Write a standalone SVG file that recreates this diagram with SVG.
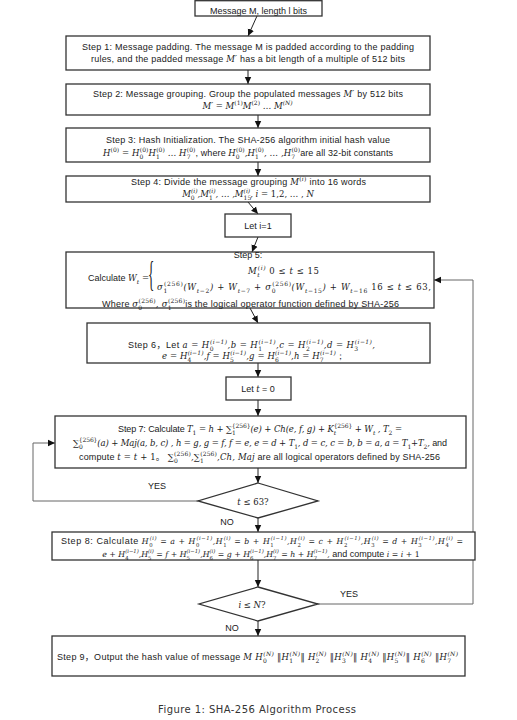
<svg xmlns="http://www.w3.org/2000/svg" width="517" height="720" viewBox="0 0 517 720">
<style>
.box{fill:#fff;stroke:#333;stroke-width:1.3}
.t{font-family:"Liberation Sans",Arial,"Noto Sans CJK SC",sans-serif;font-size:9px;fill:#1a1a1a}
.m{font-family:"DejaVu Serif","Liberation Serif",serif;font-style:italic;font-size:8.5px}
.u{font-style:normal}
.b{font-size:6px;baseline-shift:-2.5px}
.p{font-size:6px;baseline-shift:3.8px}
.k .m{font-size:7.8px}
.k .b,.k .p{font-size:5.3px}
.c{text-anchor:middle}
.ln{fill:none;stroke:#222;stroke-width:1}
.lg{fill:none;stroke:#666;stroke-width:1}
.cap{font-family:"DejaVu Sans","Liberation Sans",sans-serif;font-size:10px;fill:#333}
.br{font-family:"Liberation Serif",serif;font-size:13px;fill:#1a1a1a}
</style>
<defs>
<marker id="ah" markerWidth="8" markerHeight="8" refX="7" refY="4" orient="auto" markerUnits="userSpaceOnUse"><path d="M0,0.8 L7,4 L0,7.2 z" fill="#111"/></marker>
</defs>
<rect width="517" height="720" fill="#fff"/>

<g id="connectors">
<line class="ln" x1="257" y1="16" x2="248" y2="36" marker-end="url(#ah)"/>
<line class="ln" x1="248" y1="70" x2="248" y2="84" marker-end="url(#ah)"/>
<line class="ln" x1="258" y1="115" x2="258" y2="128" marker-end="url(#ah)"/>
<line class="ln" x1="258" y1="162" x2="258" y2="176" marker-end="url(#ah)"/>
<line class="ln" x1="248" y1="202" x2="258" y2="214" marker-end="url(#ah)"/>
<line class="ln" x1="258" y1="237" x2="252" y2="252" marker-end="url(#ah)"/>
<line class="ln" x1="250" y1="308" x2="258" y2="323" marker-end="url(#ah)"/>
<line class="ln" x1="258" y1="363" x2="258" y2="377" marker-end="url(#ah)"/>
<line class="ln" x1="258" y1="400" x2="258" y2="416" marker-end="url(#ah)"/>
<line class="ln" x1="258" y1="468" x2="258" y2="483" marker-end="url(#ah)"/>
<polyline class="lg" points="198,501 33,501 33,443 55,443" marker-end="url(#ah)"/>
<line class="ln" x1="258" y1="518" x2="258" y2="532" marker-end="url(#ah)"/>
<line class="ln" x1="258" y1="560" x2="258" y2="587" marker-end="url(#ah)"/>
<polyline class="lg" points="318,604 473,604 473,280 434,280" marker-end="url(#ah)"/>
<line class="ln" x1="258" y1="621" x2="258" y2="636" marker-end="url(#ah)"/>
<text class="t c" x="157" y="489">YES</text>
<text class="t c" x="227" y="525">NO</text>
<text class="t c" x="349" y="597">YES</text>
<text class="t c" x="232" y="631">NO</text>
</g>

<g id="start">
<rect class="box" x="195" y="0.7" width="127" height="15.3"/>
<text class="t c" x="258.5" y="13.5">Message M, length l bits</text>
</g>

<g id="step1">
<rect class="box" x="66" y="36" width="364" height="34"/>
<text class="t" x="82" y="50" textLength="332">Step 1: Message padding. The message M is padded according to the padding</text>
<text class="t" x="91" y="62" textLength="314">rules, and the padded message <tspan class="m">M′</tspan> has a bit length of a multiple of 512 bits</text>
</g>

<g id="step2">
<rect class="box" x="66" y="84" width="364" height="31"/>
<text class="t" x="93" y="97" textLength="310">Step 2: Message grouping. Group the populated messages <tspan class="m">M′</tspan> by 512 bits</text>
<text class="t m c" x="247.5" y="109">M′ <tspan class="u">=</tspan> M<tspan class="p u">(1)</tspan>M<tspan class="p u">(2)</tspan> … M<tspan class="p">(N)</tspan></text>
</g>

<g id="step3">
<rect class="box" x="66" y="128" width="364" height="34"/>
<text class="t" x="106" y="143" textLength="284">Step 3: Hash Initialization.  The SHA-256 algorithm initial hash value</text>
<text class="t" x="103" y="156" textLength="290"><tspan class="m">H<tspan class="p u">(0)</tspan> <tspan class="u">=</tspan> H<tspan class="b u">0</tspan><tspan class="p u" dx="-3.8">(0)</tspan>H<tspan class="b u">1</tspan><tspan class="p u" dx="-3.8">(0)</tspan> … H<tspan class="b u">7</tspan><tspan class="p u" dx="-3.8">(0)</tspan></tspan>, where  <tspan class="m">H<tspan class="b u">0</tspan><tspan class="p u" dx="-3.8">(0)</tspan>,H<tspan class="b u">1</tspan><tspan class="p u" dx="-3.8">(0)</tspan>, … ,H<tspan class="b u">7</tspan><tspan class="p u" dx="-3.8">(0)</tspan></tspan>are all 32-bit constants</text>
</g>

<g id="step4">
<rect class="box" x="66" y="176" width="364" height="26"/>
<text class="t" x="131" y="185" textLength="235">Step 4: Divide the message grouping <tspan class="m">M<tspan class="p u">(</tspan><tspan class="p">i</tspan><tspan class="p u">)</tspan></tspan> into 16 words</text>
<text class="t m c" x="248" y="197">M<tspan class="b u">0</tspan><tspan class="p" dx="-3.8">(i)</tspan>,M<tspan class="b u">1</tspan><tspan class="p" dx="-3.8">(i)</tspan>, … ,M<tspan class="b u">15</tspan><tspan class="p" dx="-7.6">(i)</tspan>,  i <tspan class="u">= 1,2, … ,</tspan> N</text>
</g>

<g id="let-i">
<rect class="box" x="225" y="214" width="66" height="23"/>
<text class="t c" x="258" y="229">Let i=1</text>
</g>

<g id="step5">
<rect class="box" x="66" y="252" width="368" height="56"/>
<text class="t c" x="248" y="258">Step 5:</text>
<text class="t" x="88" y="281">Calculate <tspan class="m">W<tspan class="b">t</tspan> <tspan class="u">=</tspan></tspan></text>
<text class="br" transform="translate(148,285.5) scale(1,2.7)" x="0" y="0">{</text>
<text class="t m" x="248" y="274" textLength="71">M<tspan class="b">t</tspan><tspan class="p" dx="-2.4">(i)</tspan>    <tspan class="u">0 ≤</tspan> t <tspan class="u">≤ 15</tspan></text>
<text class="t m" x="157" y="290" textLength="274">σ<tspan class="b u">1</tspan><tspan class="p u" dx="-3.8">(256)</tspan>(W<tspan class="b">t<tspan class="u">−2</tspan></tspan>) <tspan class="u">+</tspan> W<tspan class="b">t<tspan class="u">−7</tspan></tspan> <tspan class="u">+</tspan> σ<tspan class="b u">0</tspan><tspan class="p u" dx="-3.8">(256)</tspan>(W<tspan class="b">t<tspan class="u">−15</tspan></tspan>) <tspan class="u">+</tspan> W<tspan class="b">t<tspan class="u">−16</tspan></tspan>    <tspan class="u">16 ≤</tspan> t <tspan class="u">≤ 63,</tspan></text>
<text class="t" x="102" y="306.5" textLength="297">Where  <tspan class="m">σ<tspan class="b u">0</tspan><tspan class="p u" dx="-3.8">(256)</tspan>, σ<tspan class="b u">1</tspan><tspan class="p u" dx="-3.8">(256)</tspan></tspan>is the logical operator function  defined by SHA-256</text>
</g>

<g id="step6">
<rect class="box" x="87" y="323" width="343" height="40"/>
<text class="t" x="128" y="348" textLength="247">Step 6，Let  <tspan class="m">a <tspan class="u">=</tspan> H<tspan class="b u">0</tspan><tspan class="p" dx="-3.8">(i−1)</tspan>,b <tspan class="u">=</tspan> H<tspan class="b u">1</tspan><tspan class="p" dx="-3.8">(i−1)</tspan>,c <tspan class="u">=</tspan> H<tspan class="b u">2</tspan><tspan class="p" dx="-3.8">(i−1)</tspan>,d <tspan class="u">=</tspan> H<tspan class="b u">3</tspan><tspan class="p" dx="-3.8">(i−1)</tspan>,</tspan></text>
<text class="t m" x="162" y="359" textLength="183">e <tspan class="u">=</tspan> H<tspan class="b u">4</tspan><tspan class="p" dx="-3.8">(i−1)</tspan>,f <tspan class="u">=</tspan> H<tspan class="b u">5</tspan><tspan class="p" dx="-3.8">(i−1)</tspan>,g <tspan class="u">=</tspan> H<tspan class="b u">6</tspan><tspan class="p" dx="-3.8">(i−1)</tspan>,h <tspan class="u">=</tspan> H<tspan class="b u">7</tspan><tspan class="p" dx="-3.8">(i−1)</tspan><tspan class="u">；</tspan></text>
</g>

<g id="let-t">
<rect class="box" x="226" y="377" width="65" height="23"/>
<text class="t c" x="258" y="392">Let <tspan class="m">t</tspan> = 0</text>
</g>

<g id="step7">
<rect class="box" x="55" y="416" width="411" height="52"/>
<text class="t" x="118" y="432" textLength="284">Step 7: Calculate <tspan class="m">T<tspan class="b u">1</tspan> <tspan class="u">=</tspan> h <tspan class="u">+ ∑</tspan><tspan class="b u">1</tspan><tspan class="p u" dx="-3.8">{256}</tspan>(e) <tspan class="u">+</tspan> Ch(e, f, g) <tspan class="u">+</tspan> K<tspan class="b">t</tspan><tspan class="p u" dx="-2.4">{256}</tspan> <tspan class="u">+</tspan> W<tspan class="b">t</tspan> , T<tspan class="b u">2</tspan> <tspan class="u">=</tspan></tspan></text>
<text class="t" x="73" y="446" textLength="374"><tspan class="m"><tspan class="u">∑</tspan><tspan class="b u">0</tspan><tspan class="p u" dx="-3.8">{256}</tspan>(a) <tspan class="u">+</tspan> Maj(a, b, c) , h <tspan class="u">=</tspan> g, g <tspan class="u">=</tspan> f, f <tspan class="u">=</tspan> e, e <tspan class="u">=</tspan> d <tspan class="u">+</tspan> T<tspan class="b u">1</tspan>, d <tspan class="u">=</tspan> c, c <tspan class="u">=</tspan> b, b <tspan class="u">=</tspan> a, a <tspan class="u">=</tspan> T<tspan class="b u">1</tspan><tspan class="u">+</tspan>T<tspan class="b u">2</tspan>,</tspan>  and</text>
<text class="t" x="79" y="460" textLength="361">compute <tspan class="m">t <tspan class="u">=</tspan> t <tspan class="u">+ 1</tspan></tspan>。 <tspan class="m"><tspan class="u">∑</tspan><tspan class="b u">0</tspan><tspan class="p u" dx="-3.8">(256)</tspan>,<tspan class="u">∑</tspan><tspan class="b u">1</tspan><tspan class="p u" dx="-3.8">(256)</tspan>,Ch, Maj</tspan> are all logical operators defined by SHA-256</text>
</g>

<g id="decision-t">
<polygon class="box" points="258,483 318,501 258,518 198,501"/>
<text class="t m c" x="253" y="505">t <tspan class="u">≤ 63?</tspan></text>
</g>

<g id="step8">
<rect class="box" x="52" y="532" width="423" height="28"/>
<text class="t k" x="61" y="544" textLength="402">Step 8: Calculate <tspan class="m">H<tspan class="b u">0</tspan><tspan class="p" dx="-3.4">(i)</tspan> <tspan class="u">=</tspan> a <tspan class="u">+</tspan> H<tspan class="b u">0</tspan><tspan class="p" dx="-3.4">(i−1)</tspan>,H<tspan class="b u">1</tspan><tspan class="p" dx="-3.4">(i)</tspan> <tspan class="u">=</tspan> b <tspan class="u">+</tspan> H<tspan class="b u">1</tspan><tspan class="p" dx="-3.4">(i−1)</tspan>,H<tspan class="b u">2</tspan><tspan class="p" dx="-3.4">(i)</tspan> <tspan class="u">=</tspan> c <tspan class="u">+</tspan> H<tspan class="b u">2</tspan><tspan class="p" dx="-3.4">(i−1)</tspan>,H<tspan class="b u">3</tspan><tspan class="p" dx="-3.4">(i)</tspan> <tspan class="u">=</tspan> d <tspan class="u">+</tspan> H<tspan class="b u">3</tspan><tspan class="p" dx="-3.4">(i−1)</tspan>,H<tspan class="b u">4</tspan><tspan class="p" dx="-3.4">(i)</tspan> <tspan class="u">=</tspan></tspan></text>
<text class="t k c" x="261" y="556.5"><tspan class="m">e <tspan class="u">+</tspan> H<tspan class="b u">4</tspan><tspan class="p" dx="-3.4">(i−1)</tspan>,H<tspan class="b u">5</tspan><tspan class="p" dx="-3.4">(i)</tspan> <tspan class="u">=</tspan> f <tspan class="u">+</tspan> H<tspan class="b u">5</tspan><tspan class="p" dx="-3.4">(i−1)</tspan>,H<tspan class="b u">6</tspan><tspan class="p" dx="-3.4">(i)</tspan> <tspan class="u">=</tspan> g <tspan class="u">+</tspan> H<tspan class="b u">6</tspan><tspan class="p" dx="-3.4">(i−1)</tspan>,H<tspan class="b u">7</tspan><tspan class="p" dx="-3.4">(i)</tspan> <tspan class="u">=</tspan> h <tspan class="u">+</tspan> H<tspan class="b u">7</tspan><tspan class="p" dx="-3.4">(i−1)</tspan>,</tspan>   and compute  <tspan class="m">i <tspan class="u">=</tspan> i <tspan class="u">+ 1</tspan></tspan></text>
</g>

<g id="decision-i">
<polygon class="box" points="258,587 318,604 258,621 199,604"/>
<text class="t m c" x="252" y="608">i <tspan class="u">≤</tspan> N<tspan class="u">?</tspan></text>
</g>

<g id="step9">
<rect class="box" x="52" y="636" width="413" height="40"/>
<text class="t" x="57" y="660" textLength="401">Step 9，Output  the hash value  of message  <tspan class="m">M H<tspan class="b u">0</tspan><tspan class="p" dx="-3.8">(N)</tspan> <tspan class="u">‖</tspan>H<tspan class="b u">1</tspan><tspan class="p" dx="-3.8">(N)</tspan><tspan class="u">‖</tspan> H<tspan class="b u">2</tspan><tspan class="p" dx="-3.8">(N)</tspan> <tspan class="u">‖</tspan>H<tspan class="b u">3</tspan><tspan class="p" dx="-3.8">(N)</tspan><tspan class="u">‖</tspan> H<tspan class="b u">4</tspan><tspan class="p" dx="-3.8">(N)</tspan> <tspan class="u">‖</tspan>H<tspan class="b u">5</tspan><tspan class="p" dx="-3.8">(N)</tspan><tspan class="u">‖</tspan> H<tspan class="b u">6</tspan><tspan class="p" dx="-3.8">(N)</tspan> <tspan class="u">‖</tspan>H<tspan class="b u">7</tspan><tspan class="p" dx="-3.8">(N)</tspan></tspan></text>
</g>

<text class="cap" x="257" y="713" text-anchor="middle" textLength="198">Figure 1: SHA-256 Algorithm Process</text>
</svg>
